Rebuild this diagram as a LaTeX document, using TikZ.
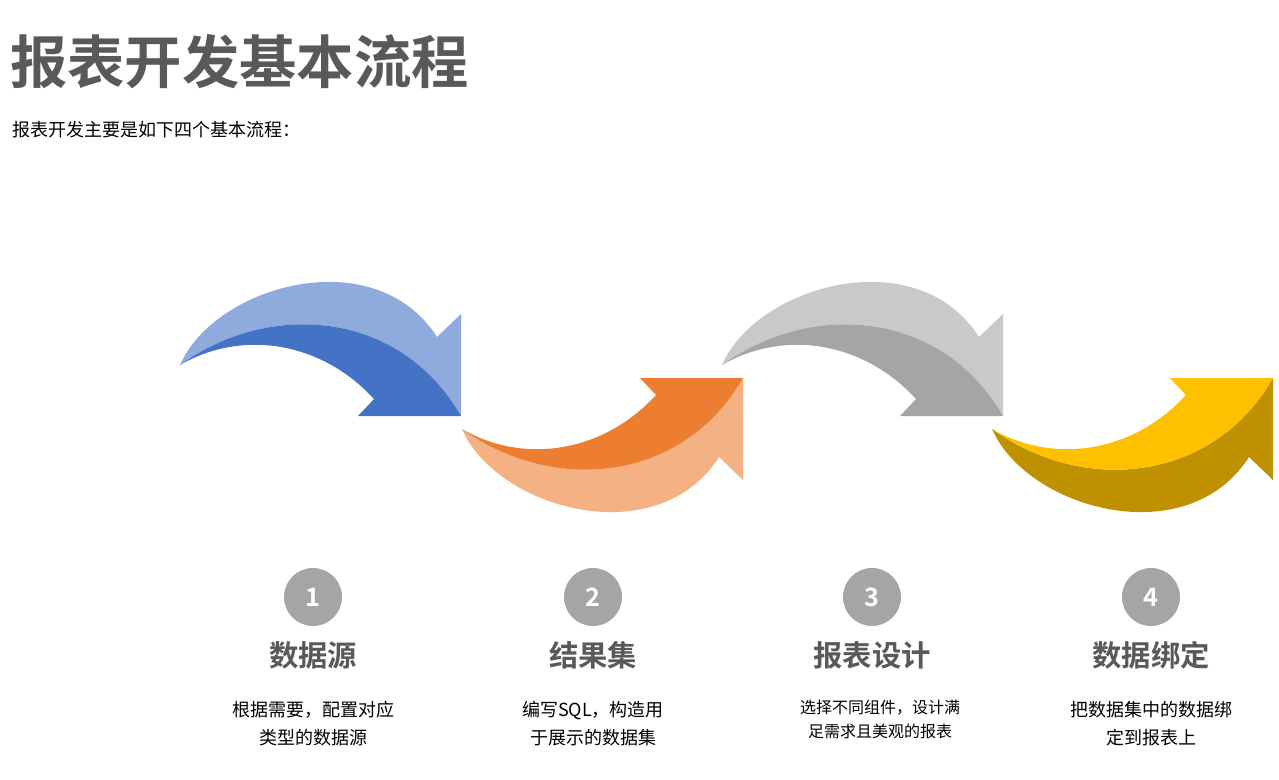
\documentclass[tikz,border=0pt]{standalone}
\usepackage{fontspec}
\setmainfont{Noto Sans CJK SC}[BoldFont={Noto Sans CJK SC Bold}]
\definecolor{tg}{HTML}{595959}
\definecolor{cg}{HTML}{A5A5A5}
\definecolor{b1}{HTML}{8FAADC}\definecolor{b2}{HTML}{4472C4}
\definecolor{o1}{HTML}{F4B183}\definecolor{o2}{HTML}{ED7D31}
\definecolor{g1}{HTML}{C9C9C9}\definecolor{g2}{HTML}{A5A5A5}
\definecolor{y1}{HTML}{BF9000}\definecolor{y2}{HTML}{FFC000}
\newcommand{\curvarrow}[2]{%
\fill[#1] (180,365) .. controls (215,285) and (375,240) .. (437,337) -- (461,314) -- (461,416)
  .. controls (400,310) and (270,300) .. (180,365) -- cycle;
\fill[#2] (180,365) .. controls (270,300) and (400,310) .. (461,416) -- (358,416) -- (374,399)
  .. controls (320,340) and (240,330) .. (180,365) -- cycle;}
\begin{document}
\begin{tikzpicture}[x=0.75pt,y=-0.75pt,
  num/.style={circle,fill=cg,minimum size=43.5pt,inner sep=0pt,text=white,font=\fontsize{19}{19}\bfseries},
  head/.style={text=tg,font=\fontsize{22}{24}\bfseries},
  desc/.style={align=center,font=\fontsize{13.5}{21}\selectfont}]
\useasboundingbox (0,0) rectangle (1279,779);
\begin{scope}\curvarrow{b1}{b2}\end{scope}
\begin{scope}[shift={(282,794)},yscale=-1]\curvarrow{o1}{o2}\end{scope}
\begin{scope}[shift={(542,0)}]\curvarrow{g1}{g2}\end{scope}
\begin{scope}[shift={(812,794)},yscale=-1]\curvarrow{y1}{y2}\end{scope}
\node[anchor=west,text=tg,inner sep=0pt,font=\fontsize{43}{43}\bfseries] (title) at (10,62) {报表开发基本流程};
\node[anchor=west,inner sep=0pt,font=\fontsize{13.5}{14}\selectfont] (sub) at (12,130) {报表开发主要是如下四个基本流程：};
\foreach \i/\x/\h/\d in {1/313/数据源/根据需要，配置对应\\类型的数据源,2/593/结果集/编写SQL，构造用\\于展示的数据集,4/1151/数据绑定/把数据集中的数据绑\\定到报表上}{
  \node[num] (n\i) at (\x,597) {\i};
  \node[head] (h\i) at (\x,655) {\h};
  \node[desc] (d\i) at (\x,724) {\d};}
\node[num] (n3) at (872,597) {3};
\node[head] (h3) at (872,655) {报表设计};
\node[desc,font=\fontsize{12}{18}\selectfont] (d3) at (880,719) {选择不同组件，设计满\\足需求且美观的报表};
\end{tikzpicture}
\end{document}
